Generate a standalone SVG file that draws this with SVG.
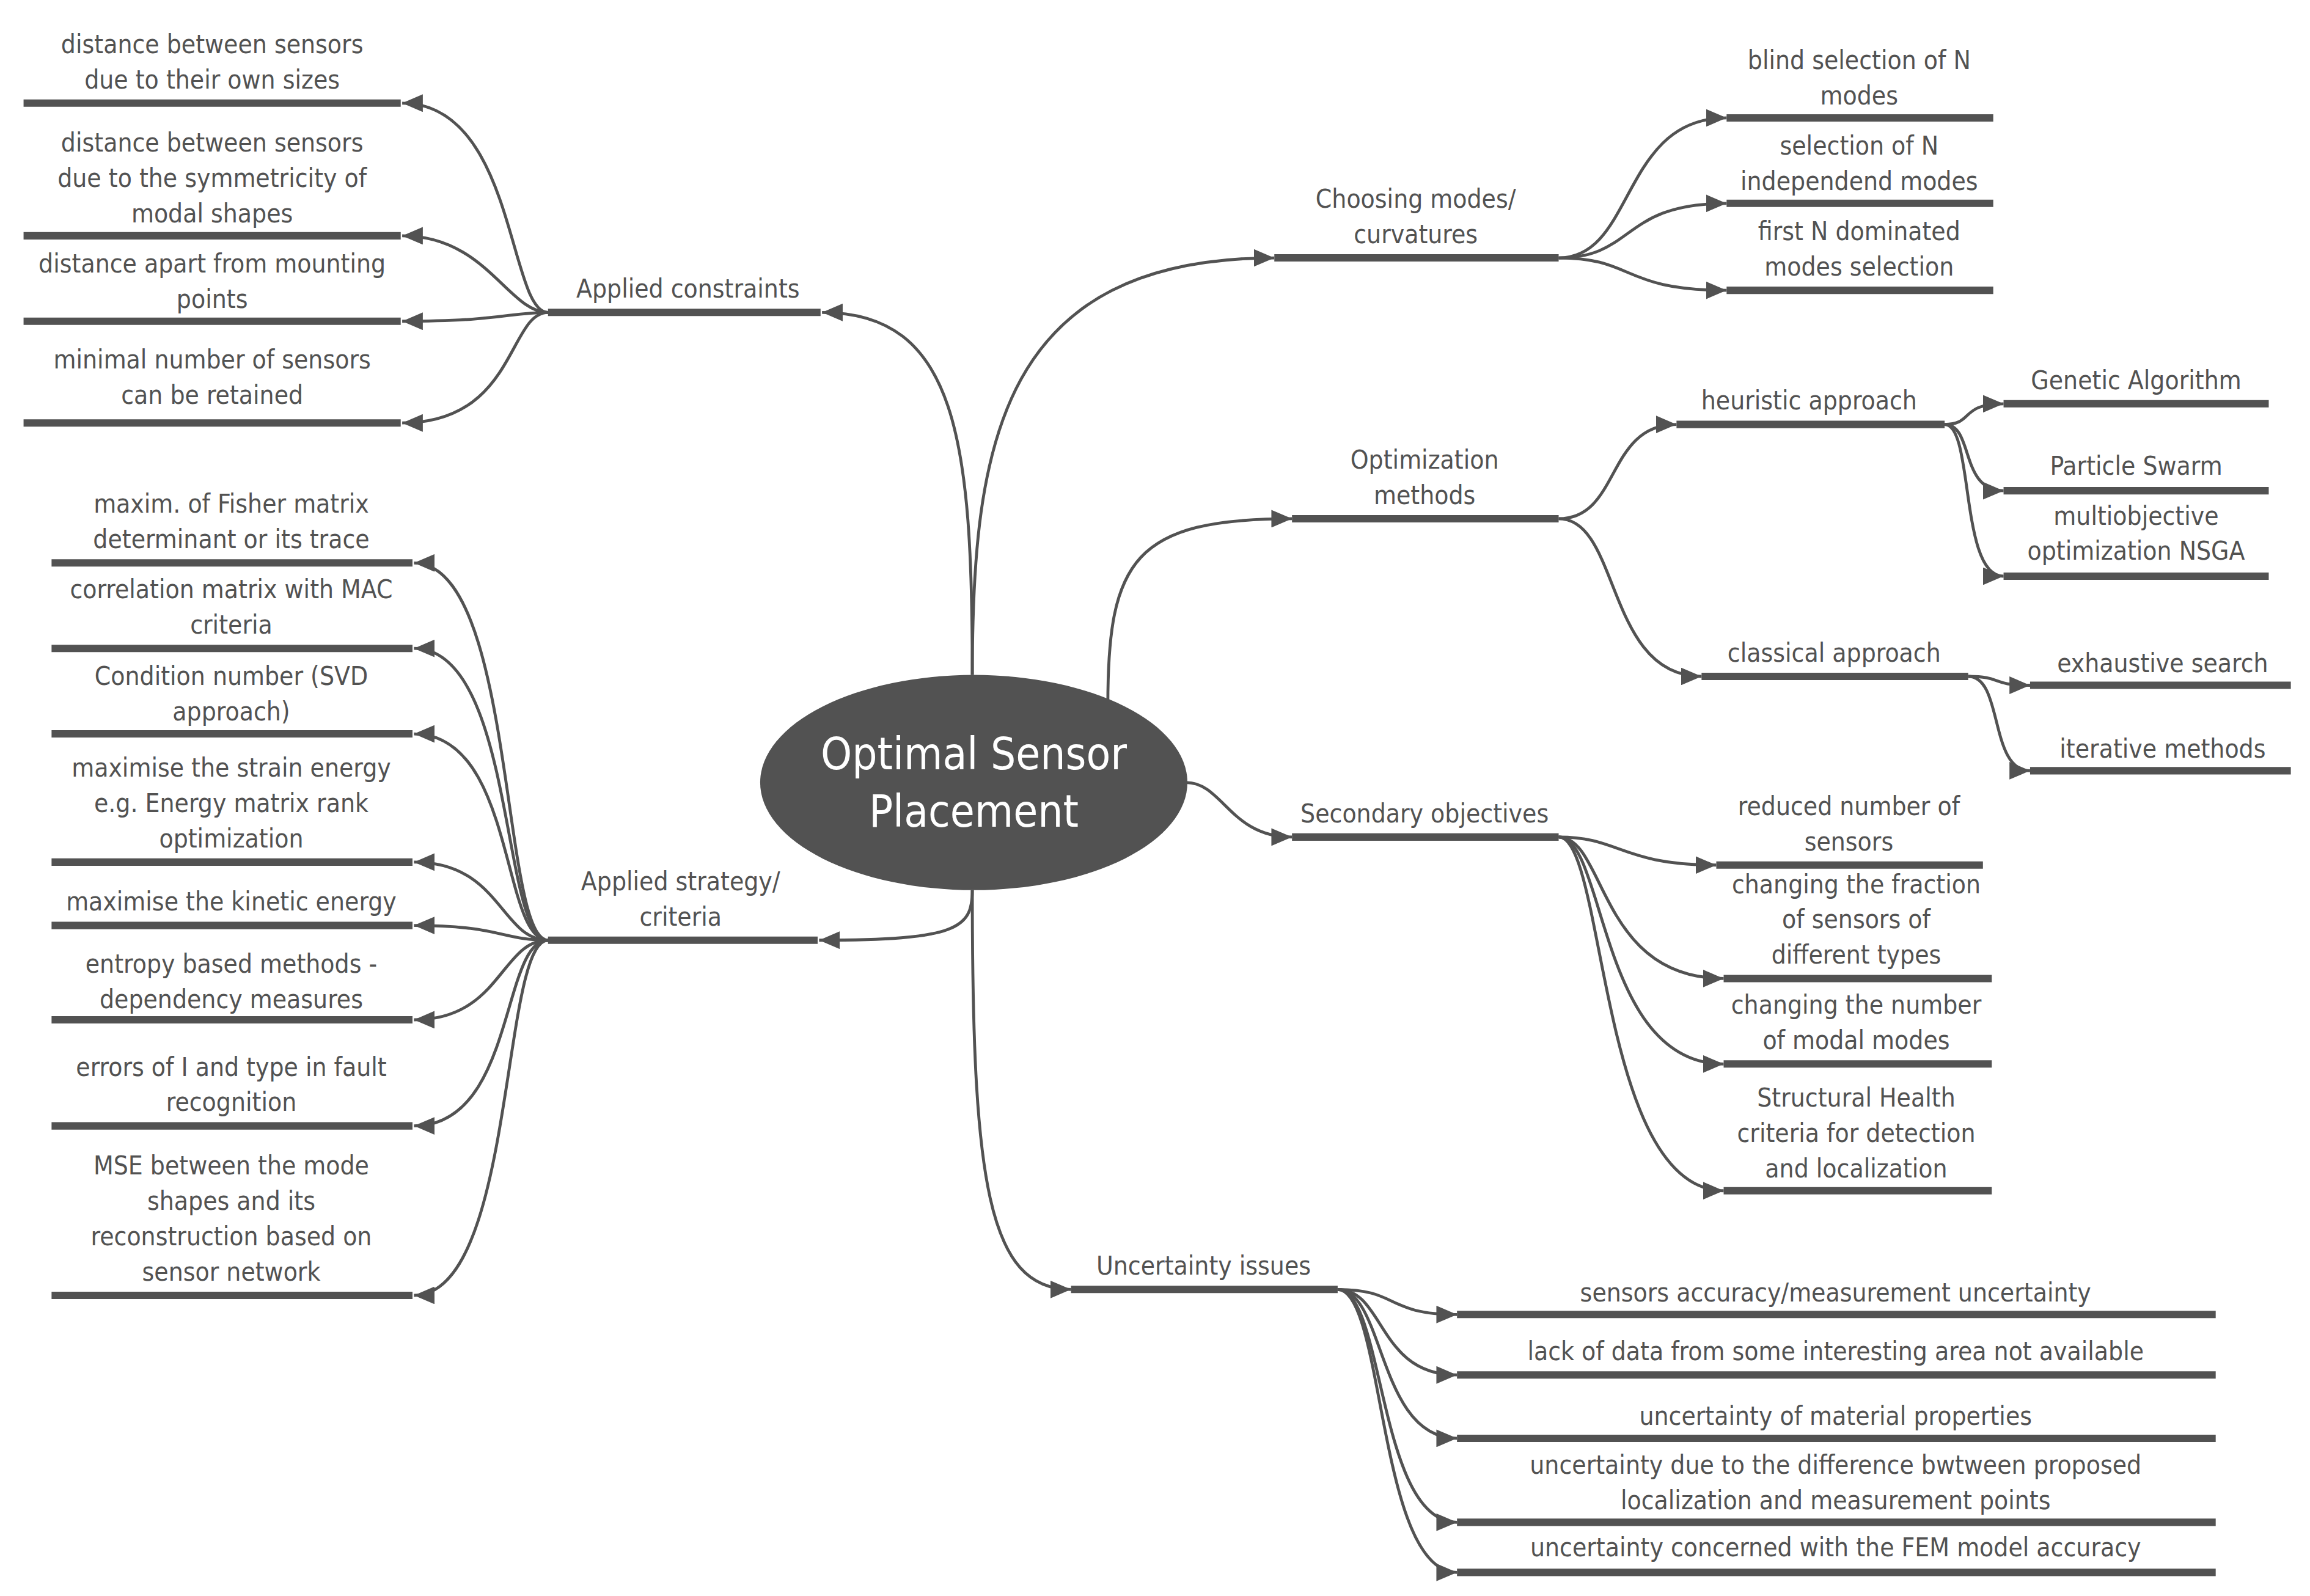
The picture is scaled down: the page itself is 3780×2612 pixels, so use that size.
<svg xmlns="http://www.w3.org/2000/svg" width="3780" height="2612" viewBox="0 0 3780 2612">
<style>
.t{font-family:"DejaVu Sans Condensed","DejaVu Sans",sans-serif;font-stretch:condensed;font-size:17.5px;fill:#525252;text-anchor:middle}
.b{stroke:#525252;stroke-width:5;fill:none}
.c{stroke:#525252;stroke-width:2;fill:none;marker-end:url(#ah)}
.ct{font-family:"DejaVu Sans Condensed","DejaVu Sans",sans-serif;font-stretch:condensed;font-size:30px;fill:#fff;text-anchor:middle}
</style>
<defs>
<marker id="ah" viewBox="0 0 14 12" refX="14" refY="6" markerWidth="14" markerHeight="12" markerUnits="userSpaceOnUse" orient="auto"><path d="M0,0 L14,6 L0,12 z" fill="#525252"/></marker>
</defs>
<rect width="3780" height="2612" fill="#fff"/>
<g transform="scale(2.4107,2.4118)">
<g id="connectors">
<path class="c" d="M660,458 C660,300 650,212 558,212"/>
<path class="c" d="M660,458 C660,300 680,175 865,175"/>
<path class="c" d="M752,478 C752,380 770,352 877,352"/>
<path class="c" d="M805,531 C830,531 835,568 877,568"/>
<path class="c" d="M660,604 C660,800 670,875 727,875"/>
<path class="c" d="M660,604 C660,630 650,638 556,638"/>
<path class="c" d="M372,212 C345,212 350,70 273,70"/>
<path class="c" d="M372,212 C345,212 330,160 273,160"/>
<path class="c" d="M372,212 C345,212 340,218 273,218"/>
<path class="c" d="M372,212 C345,212 350,287 273,287"/>
<path class="c" d="M1058,175 C1110,175 1100,80 1172,80"/>
<path class="c" d="M1058,175 C1110,175 1100,138 1172,138"/>
<path class="c" d="M1058,175 C1110,175 1100,197 1172,197"/>
<path class="c" d="M1058,352 C1100,352 1090,288 1138,288"/>
<path class="c" d="M1058,352 C1100,352 1090,459 1155,459"/>
<path class="c" d="M1320,288 C1340,288 1330,274 1360,274"/>
<path class="c" d="M1320,288 C1340,288 1330,333 1360,333"/>
<path class="c" d="M1320,288 C1340,288 1330,391 1360,391"/>
<path class="c" d="M1336,459 C1360,459 1350,465 1378,465"/>
<path class="c" d="M1336,459 C1360,459 1350,523 1378,523"/>
<path class="c" d="M1058,568 C1100,568 1100,587 1165,587"/>
<path class="c" d="M1058,568 C1090,568 1085,664 1170,664"/>
<path class="c" d="M1058,568 C1090,568 1085,722 1170,722"/>
<path class="c" d="M1058,568 C1090,568 1085,808 1170,808"/>
<path class="c" d="M908,875 C950,875 940,892 989,892"/>
<path class="c" d="M908,875 C940,875 935,933 989,933"/>
<path class="c" d="M908,875 C940,875 935,976 989,976"/>
<path class="c" d="M908,875 C940,875 935,1033 989,1033"/>
<path class="c" d="M908,875 C940,875 935,1067 989,1067"/>
<path class="c" d="M372,638 C340,638 350,382 281,382"/>
<path class="c" d="M372,638 C340,638 350,440 281,440"/>
<path class="c" d="M372,638 C340,638 350,498 281,498"/>
<path class="c" d="M372,638 C340,638 340,585 281,585"/>
<path class="c" d="M372,638 C340,638 340,628 281,628"/>
<path class="c" d="M372,638 C340,638 340,692 281,692"/>
<path class="c" d="M372,638 C340,638 350,764 281,764"/>
<path class="c" d="M372,638 C340,638 350,879 281,879"/>
</g>
<g id="center"><ellipse cx="661" cy="531" rx="145" ry="73" fill="#525252"/><text class="ct" x="661" y="522">Optimal Sensor</text><text class="ct" x="661" y="561">Placement</text></g>
<g id="applied-constraints"><path class="b" d="M372,212H557"/><text class="t" x="467" y="202">Applied constraints</text></g>
<g id="ac1"><path class="b" d="M16,70H272"/><text class="t" x="144" y="36">distance between sensors</text><text class="t" x="144" y="60">due to their own sizes</text></g>
<g id="ac2"><path class="b" d="M16,160H272"/><text class="t" x="144" y="103">distance between sensors</text><text class="t" x="144" y="127">due to the symmetricity of</text><text class="t" x="144" y="151">modal shapes</text></g>
<g id="ac3"><path class="b" d="M16,218H272"/><text class="t" x="144" y="185">distance apart from mounting</text><text class="t" x="144" y="209">points</text></g>
<g id="ac4"><path class="b" d="M16,287H272"/><text class="t" x="144" y="250">minimal number of sensors</text><text class="t" x="144" y="274">can be retained</text></g>
<g id="choosing"><path class="b" d="M865,175H1058"/><text class="t" x="961" y="141">Choosing modes/</text><text class="t" x="961" y="165">curvatures</text></g>
<g id="ch1"><path class="b" d="M1172,80H1353"/><text class="t" x="1262" y="47">blind selection of N</text><text class="t" x="1262" y="71">modes</text></g>
<g id="ch2"><path class="b" d="M1172,138H1353"/><text class="t" x="1262" y="105">selection of N</text><text class="t" x="1262" y="129">independend modes</text></g>
<g id="ch3"><path class="b" d="M1172,197H1353"/><text class="t" x="1262" y="163">first N dominated</text><text class="t" x="1262" y="187">modes selection</text></g>
<g id="optimization"><path class="b" d="M877,352H1058"/><text class="t" x="967" y="318">Optimization</text><text class="t" x="967" y="342">methods</text></g>
<g id="heuristic"><path class="b" d="M1138,288H1320"/><text class="t" x="1228" y="278">heuristic approach</text></g>
<g id="classical"><path class="b" d="M1155,459H1336"/><text class="t" x="1245" y="449">classical approach</text></g>
<g id="ga"><path class="b" d="M1360,274H1540"/><text class="t" x="1450" y="264">Genetic Algorithm</text></g>
<g id="ps"><path class="b" d="M1360,333H1540"/><text class="t" x="1450" y="322">Particle Swarm</text></g>
<g id="nsga"><path class="b" d="M1360,391H1540"/><text class="t" x="1450" y="356">multiobjective</text><text class="t" x="1450" y="380">optimization NSGA</text></g>
<g id="exh"><path class="b" d="M1378,465H1555"/><text class="t" x="1468" y="456">exhaustive search</text></g>
<g id="iter"><path class="b" d="M1378,523H1555"/><text class="t" x="1468" y="514">iterative methods</text></g>
<g id="secondary"><path class="b" d="M877,568H1058"/><text class="t" x="967" y="558">Secondary objectives</text></g>
<g id="so1"><path class="b" d="M1165,587H1346"/><text class="t" x="1255" y="553">reduced number of</text><text class="t" x="1255" y="577">sensors</text></g>
<g id="so2"><path class="b" d="M1170,664H1352"/><text class="t" x="1260" y="606">changing the fraction</text><text class="t" x="1260" y="630">of sensors of</text><text class="t" x="1260" y="654">different types</text></g>
<g id="so3"><path class="b" d="M1170,722H1352"/><text class="t" x="1260" y="688">changing the number</text><text class="t" x="1260" y="712">of modal modes</text></g>
<g id="so4"><path class="b" d="M1170,808H1352"/><text class="t" x="1260" y="751">Structural Health</text><text class="t" x="1260" y="775">criteria for detection</text><text class="t" x="1260" y="799">and localization</text></g>
<g id="uncertainty"><path class="b" d="M727,875H908"/><text class="t" x="817" y="865">Uncertainty issues</text></g>
<g id="u1"><path class="b" d="M989,892H1504"/><text class="t" x="1246" y="883">sensors accuracy/measurement uncertainty</text></g>
<g id="u2"><path class="b" d="M989,933H1504"/><text class="t" x="1246" y="923">lack of data from some interesting area not available</text></g>
<g id="u3"><path class="b" d="M989,976H1504"/><text class="t" x="1246" y="967">uncertainty of material properties</text></g>
<g id="u4"><path class="b" d="M989,1033H1504"/><text class="t" x="1246" y="1000">uncertainty due to the difference bwtween proposed</text><text class="t" x="1246" y="1024">localization and measurement points</text></g>
<g id="u5"><path class="b" d="M989,1067H1504"/><text class="t" x="1246" y="1056">uncertainty concerned with the FEM model accuracy</text></g>
<g id="strategy"><path class="b" d="M372,638H555"/><text class="t" x="462" y="604">Applied strategy/</text><text class="t" x="462" y="628">criteria</text></g>
<g id="s1"><path class="b" d="M35,382H280"/><text class="t" x="157" y="348">maxim. of Fisher matrix</text><text class="t" x="157" y="372">determinant or its trace</text></g>
<g id="s2"><path class="b" d="M35,440H280"/><text class="t" x="157" y="406">correlation matrix with MAC</text><text class="t" x="157" y="430">criteria</text></g>
<g id="s3"><path class="b" d="M35,498H280"/><text class="t" x="157" y="465">Condition number (SVD</text><text class="t" x="157" y="489">approach)</text></g>
<g id="s4"><path class="b" d="M35,585H280"/><text class="t" x="157" y="527">maximise the strain energy</text><text class="t" x="157" y="551">e.g. Energy matrix rank</text><text class="t" x="157" y="575">optimization</text></g>
<g id="s5"><path class="b" d="M35,628H280"/><text class="t" x="157" y="618">maximise the kinetic energy</text></g>
<g id="s6"><path class="b" d="M35,692H280"/><text class="t" x="157" y="660">entropy based methods -</text><text class="t" x="157" y="684">dependency measures</text></g>
<g id="s7"><path class="b" d="M35,764H280"/><text class="t" x="157" y="730">errors of I and type in fault</text><text class="t" x="157" y="754">recognition</text></g>
<g id="s8"><path class="b" d="M35,879H280"/><text class="t" x="157" y="797">MSE between the mode</text><text class="t" x="157" y="821">shapes and its</text><text class="t" x="157" y="845">reconstruction based on</text><text class="t" x="157" y="869">sensor network</text></g>
</g>
</svg>
